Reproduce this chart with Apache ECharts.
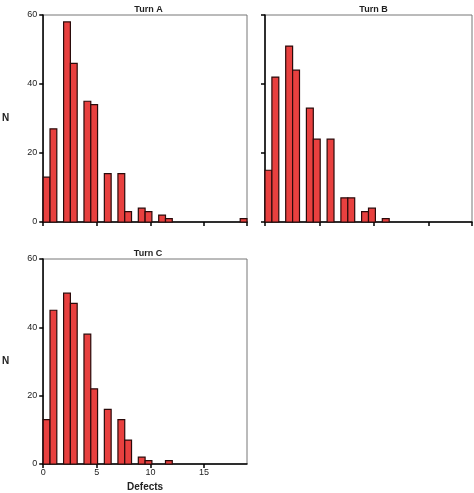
<!DOCTYPE html>
<html><head><meta charset="utf-8">
<script src="https://cdn.jsdelivr.net/npm/echarts@6/dist/echarts.min.js"></script>
<style>html,body{margin:0;padding:0;background:#fff}#c{width:474px;height:493px}</style>
</head><body><div id="c"></div>
<script>
const binWidth = 19/30;
const turnA = [13,27,0,58,46,0,35,34,0,14,0,14,3,0,4,3,0,2,1,0,0,0,0,0,0,0,0,0,0,1];
const turnB = [15,42,0,51,44,0,33,24,0,24,0,7,7,0,3,4,0,1];
const turnC = [13,45,0,50,47,0,38,22,0,16,0,13,7,0,2,1,0,0,1];
const titles = ['Turn A','Turn B','Turn C'];
const xTicks = [0,5,10,15];
const yTicks = [0,20,40,60];

const grids = [
  {left:40, top:15, width:207, height:207},
  {left:265, top:15, width:207, height:207},
  {left:39, top:259, width:208, height:206}
];
const datasets = [turnA, turnB, turnC];
const axisLine = {show:true, lineStyle:{color:'#000', width:1.5}};
const opt = {
  animation:false,
  backgroundColor:'#fff',
  title: titles.map((t,i)=>({text:t, left:grids[i].left+grids[i].width/2, top:grids[i].top-15, textAlign:'center',
    textStyle:{fontSize:9, fontWeight:'bold', fontFamily:'Liberation Sans', color:'#222'}})),
  grid: grids.map(g=>Object.assign({show:true, borderColor:'#777', borderWidth:1, backgroundColor:'#fff'}, g)),
  xAxis: grids.map((g,i)=>({type:'value', gridIndex:i, min:0, max:19, interval:5,
    axisLine:axisLine, axisTick:{show:true, length:4, lineStyle:{color:'#000', width:1.5}},
    splitLine:{show:false},
    axisLabel:{show:i===2, fontSize:9, color:'#222', margin:4, fontFamily:'Liberation Sans', showMaxLabel:false},
    name: i===2?'Defects':'', nameLocation:'middle', nameGap:18,
    nameTextStyle:{fontSize:10, fontWeight:'bold', color:'#222', fontFamily:'Liberation Sans'}})),
  yAxis: grids.map((g,i)=>({type:'value', gridIndex:i, min:0, max:60, interval:20,
    axisLine:axisLine, axisTick:{show:true, length:4, lineStyle:{color:'#000', width:1.5}},
    splitLine:{show:false},
    axisLabel:{show:i!==1, fontSize:9, color:'#222', margin:6, fontFamily:'Liberation Sans'},
    name: i!==1?'N':'', nameLocation:'middle', nameGap:34, nameRotate:0,
    nameTextStyle:{fontSize:10, fontWeight:'bold', color:'#222', fontFamily:'Liberation Sans'}})),
  series: datasets.map((d,i)=>({
    type:'custom', xAxisIndex:i, yAxisIndex:i,
    data: d.map((v,k)=>[k*binWidth,(k+1)*binWidth,v]).filter(r=>r[2]>0),
    renderItem:(params, api)=>{
      const p0 = api.coord([api.value(0), api.value(2)]);
      const p1 = api.coord([api.value(1), 0]);
      return {type:'rect', shape:{x:p0[0], y:p0[1], width:p1[0]-p0[0], height:p1[1]-p0[1]},
        style:{fill:'#e8403f', stroke:'#2a0a0a', lineWidth:1.2}};
    }
  }))
};
echarts.init(document.getElementById('c')).setOption(opt);
</script></body></html>
